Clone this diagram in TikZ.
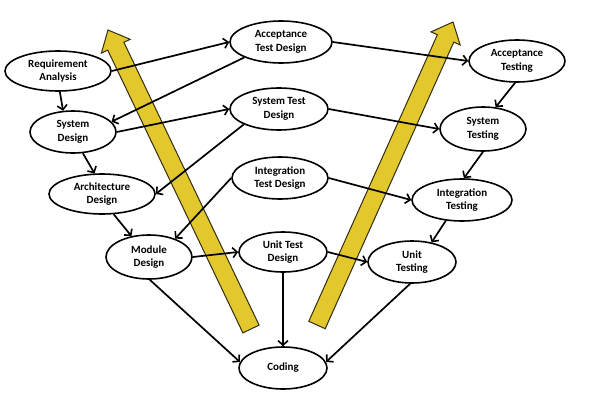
\documentclass[tikz,border=0pt]{standalone}
\usepackage{fontspec}
\setmainfont{Carlito}
\usetikzlibrary{shapes.geometric,arrows.meta}
\definecolor{vyellow}{RGB}{226,199,45}
\definecolor{vedge}{RGB}{50,45,15}
\tikzset{
  phase/.style={ellipse,draw=black,line width=1.6pt,fill=white,inner sep=0pt,
    align=center,font=\bfseries\fontsize{11}{13.5}\selectfont},
  conn/.style={line width=1.7pt,-{Straight Barb[length=4.5pt,width=10pt,line width=1.6pt]}},
  bigarrow/.style={fill=vyellow,draw=vedge,line width=1pt,line join=miter}
}
\begin{document}
\begin{tikzpicture}[x=1pt,y=-1pt]
\useasboundingbox (0,0) rectangle (589,415);
% yellow block arrows
\draw[bigarrow] (259.1,325.1) -- (123.9,42.3) -- (130.2,39.3) -- (108,30) -- (101.4,53.1) -- (107.7,50.1) -- (242.9,332.9) -- cycle;
\draw[bigarrow] (308.8,321.3) -- (437.4,34.7) -- (431.0,31.9) -- (453,22) -- (460.2,45.0) -- (453.8,42.1) -- (325.2,328.7) -- cycle;
% nodes
\node[phase,minimum width=106pt,minimum height=40pt] (req) at (58,71) {Requirement\\Analysis};
\node[phase,minimum width=102pt,minimum height=42pt] (atd) at (281,42) {Acceptance\\Test Design};
\node[phase,minimum width=86pt,minimum height=42pt] (sd) at (73,132) {System\\Design};
\node[phase,minimum width=98pt,minimum height=42pt] (std) at (279,109) {System Test\\Design};
\node[phase,minimum width=106pt,minimum height=40pt] (ad) at (102,194) {Architecture\\Design};
\node[phase,minimum width=96pt,minimum height=42pt] (itd) at (280,178) {Integration\\Test Design};
\node[phase,minimum width=86pt,minimum height=44pt] (md) at (149,257) {Module\\Design};
\node[phase,minimum width=88pt,minimum height=40pt] (utd) at (283,252) {Unit Test\\Design};
\node[phase,minimum width=88pt,minimum height=42pt] (ut) at (412,262) {Unit\\Testing};
\node[phase,minimum width=88pt,minimum height=42pt] (cod) at (283,368) {Coding};
\node[phase,minimum width=96pt,minimum height=42pt] (at) at (517,61) {Acceptance\\Testing};
\node[phase,minimum width=86pt,minimum height=44pt] (st) at (483,129) {System\\Testing};
\node[phase,minimum width=100pt,minimum height=42pt] (it) at (462,200) {Integration\\Testing};
% connectors
\draw[conn] (req.east) -- (atd.west);
\draw[conn] (atd.south west) -- (sd.15);
\draw[conn] (req.-85) -- (sd.115);
\draw[conn] (sd.east) -- (std.west);
\draw[conn] (std.south west) -- (ad.east);
\draw[conn] (sd.-65) -- (ad.110);
\draw[conn] (itd.west) -- (md.35);
\draw[conn] (ad.-60) -- (md.130);
\draw[conn] (md.east) -- (utd.west);
\draw[conn] (utd.east) -- (ut.west);
\draw[conn] (md.-88) -- (cod.172);
\draw[conn] (utd.south) -- (cod.north);
\draw[conn] (ut.-95) -- (cod.8);
\draw[conn] (atd.east) -- (at.west);
\draw[conn] (at.-95) -- (st.60);
\draw[conn] (std.east) -- (st.west);
\draw[conn] (st.south) -- (it.85);
\draw[conn] (itd.east) -- (it.west);
\draw[conn] (it.-128) -- (ut.45);
\end{tikzpicture}
\end{document}
